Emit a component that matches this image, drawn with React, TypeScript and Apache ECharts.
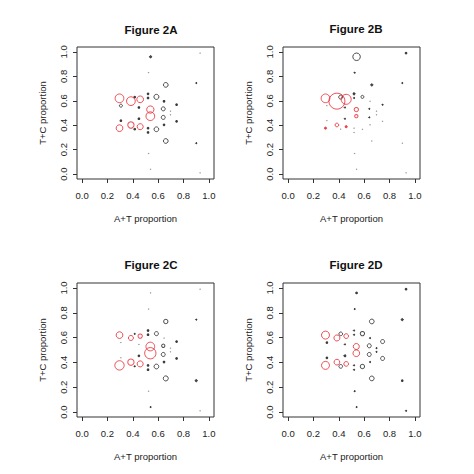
import React, { useEffect, useRef } from "react";
import * as echarts from "echarts";

// A+T and T+C proportions of the 38 points (same positions in every panel)
const atProportion = [
  0.54, 0.93, 0.525, 0.66, 0.9, 0.295, 0.385, 0.458, 0.415, 0.306,
  0.448, 0.52, 0.52, 0.586, 0.646, 0.745, 0.64, 0.538, 0.538, 0.697,
  0.697, 0.64, 0.745, 0.306, 0.448, 0.646, 0.295, 0.385, 0.458, 0.415,
  0.52, 0.52, 0.586, 0.66, 0.9, 0.525, 0.54, 0.93,
];
const tcProportion = [
  0.96, 0.99, 0.83, 0.73, 0.745, 0.62, 0.597, 0.612, 0.63, 0.56,
  0.545, 0.657, 0.623, 0.632, 0.596, 0.568, 0.534, 0.528, 0.474, 0.515,
  0.485, 0.464, 0.432, 0.437, 0.453, 0.403, 0.376, 0.402, 0.388, 0.368,
  0.376, 0.341, 0.367, 0.271, 0.253, 0.168, 0.04, 0.01,
];
// highlighted (red) points
const highlighted = [5, 6, 7, 17, 18, 26, 27, 28];

// circle diameters per figure
const sizeA = [
  2.5, 1, 1, 4.7, 1.5, 8.7, 8.7, 6.7, 2, 3,
  2, 2, 2, 5, 2, 2, 4, 7.3, 8.7, 1,
  1, 4, 2, 2, 2, 2, 6.7, 6.3, 6, 2,
  2, 2, 4.7, 4.7, 1.5, 1, 1, 1,
];
const sizeB = [
  7.5, 2, 1.5, 2.5, 1.5, 8.7, 16, 10, 4, 1,
  1.5, 2.5, 1.5, 3, 1, 1.5, 1.5, 4.3, 3.3, 1,
  1, 1.5, 1, 1, 1.5, 1, 2.5, 3.7, 2.5, 1,
  1, 1, 1, 1, 1, 1, 1, 1,
];
const sizeC = [
  1, 1, 1, 4.3, 1.5, 6.7, 5, 4.3, 1.5, 1,
  1, 2, 2, 4, 1, 2, 3.3, 8.7, 11.3, 1,
  1, 4, 2, 1, 2, 2, 9.3, 6.3, 6, 1.5,
  2, 2, 4.7, 5, 2.5, 1, 1.5, 1,
];
const sizeD = [
  2, 2, 1.5, 4.7, 2.5, 8, 6, 4.7, 3.7, 2,
  1.5, 1.5, 1.5, 4.3, 1.5, 4, 4, 6, 6.7, 1.5,
  1.5, 4, 4, 2, 2.3, 1.5, 8, 5.7, 4.7, 3.7,
  1.5, 1.5, 4.3, 4.7, 2, 1.5, 1.5, 1.5,
];

const figureTitles = ["Figure 2A", "Figure 2B", "Figure 2C", "Figure 2D"];
const figureSizes = [sizeA, sizeB, sizeC, sizeD];
const tickValues = [0, 0.2, 0.4, 0.6, 0.8, 1.0];
const xName = "A+T proportion";
const yName = "T+C proportion";

const FONT = "'Liberation Sans', Arial, Helvetica, sans-serif";
const INK = "#222";
const RED = "#e8232b";

const layouts = [
  { left: 77, top: 47, width: 137, height: 132, tx: 146, ty: 18.5 },
  { left: 283, top: 47, width: 137, height: 132, tx: 351, ty: 17.5 },
  { left: 77, top: 283, width: 137, height: 134, tx: 146, ty: 254 },
  { left: 283, top: 283, width: 137, height: 134, tx: 351, ty: 254 },
];

export default function App() {
  const ref = useRef<HTMLDivElement>(null);
  useEffect(() => {
    if (!ref.current) return;
    const chart = echarts.init(ref.current, null, { renderer: "svg" });

    const title: any[] = [];
    const grid: any[] = [];
    const xAxis: any[] = [];
    const yAxis: any[] = [];
    const series: any[] = [];

    figureSizes.forEach((sizes, i) => {
      const L = layouts[i];
      title.push({
        text: figureTitles[i],
        left: L.tx,
        top: L.ty,
        textAlign: "center",
        textStyle: { fontFamily: FONT, fontSize: 11.5, fontWeight: "bold", color: "#111" },
      });
      grid.push({
        left: L.left,
        top: L.top,
        width: L.width,
        height: L.height,
        show: true,
        borderColor: "#333",
        borderWidth: 1,
        backgroundColor: "transparent",
        containLabel: false,
        outerBoundsMode: "none",
      });
      const axisCommon = {
        gridIndex: i,
        type: "value",
        min: -0.04,
        max: 1.04,
        axisLine: { show: false, onZero: false },
        splitLine: { show: false },
        axisTick: {
          show: true,
          customValues: tickValues,
          length: 4,
          lineStyle: { color: "#333", width: 1 },
        },
        nameLocation: "middle",
        nameTextStyle: { fontFamily: FONT, fontSize: 9.5, color: INK },
      };
      xAxis.push({
        ...axisCommon,
        position: "bottom",
        name: xName,
        nameGap: 34,
        axisLabel: {
          customValues: tickValues,
          formatter: (v: number) => v.toFixed(1),
          fontFamily: FONT,
          fontSize: 9.5,
          color: INK,
          margin: 11,
        },
      });
      yAxis.push({
        ...axisCommon,
        position: "left",
        name: yName,
        nameGap: 30,
        axisLabel: {
          customValues: tickValues,
          formatter: (v: number) => v.toFixed(1),
          rotate: 90,
          fontFamily: FONT,
          fontSize: 9.5,
          color: INK,
          margin: 9,
        },
      });
      const mk = (red: boolean) => {
        const col = red ? RED : INK;
        return atProportion
          .map((x, k) => ({ k, x }))
          .filter(({ k }) => highlighted.includes(k) === red)
          .map(({ k, x }) => {
            const s = sizes[k];
            const dot = s <= 2.5;
            return {
              value: [x, tcProportion[k]],
              symbolSize: dot ? Math.max(s - 0.3, 0.8) : s,
              itemStyle: {
                color: dot ? (s <= 1 ? "rgba(60,60,60,0.6)" : col) : "rgba(0,0,0,0)",
                borderColor: s <= 1 ? "rgba(60,60,60,0.6)" : col,
                borderWidth: s <= 1 ? 0.6 : 1,
              },
            };
          });
      };
      series.push({
        type: "scatter",
        xAxisIndex: i,
        yAxisIndex: i,
        symbol: "circle",
        data: mk(false),
        itemStyle: { color: "rgba(0,0,0,0)", borderColor: INK, borderWidth: 1 },
        emphasis: { disabled: true },
      });
      series.push({
        type: "scatter",
        xAxisIndex: i,
        yAxisIndex: i,
        symbol: "circle",
        data: mk(true),
        itemStyle: { color: "rgba(0,0,0,0)", borderColor: RED, borderWidth: 1 },
        emphasis: { disabled: true },
      });
    });

    chart.setOption({
      animation: false,
      backgroundColor: "#fff",
      title,
      grid,
      xAxis,
      yAxis,
      series,
    });
    return () => chart.dispose();
  }, []);
  return (
    <div
      ref={ref}
      style={{ position: "absolute", left: 0, top: 0, width: 474, height: 474 }}
    />
  );
}
